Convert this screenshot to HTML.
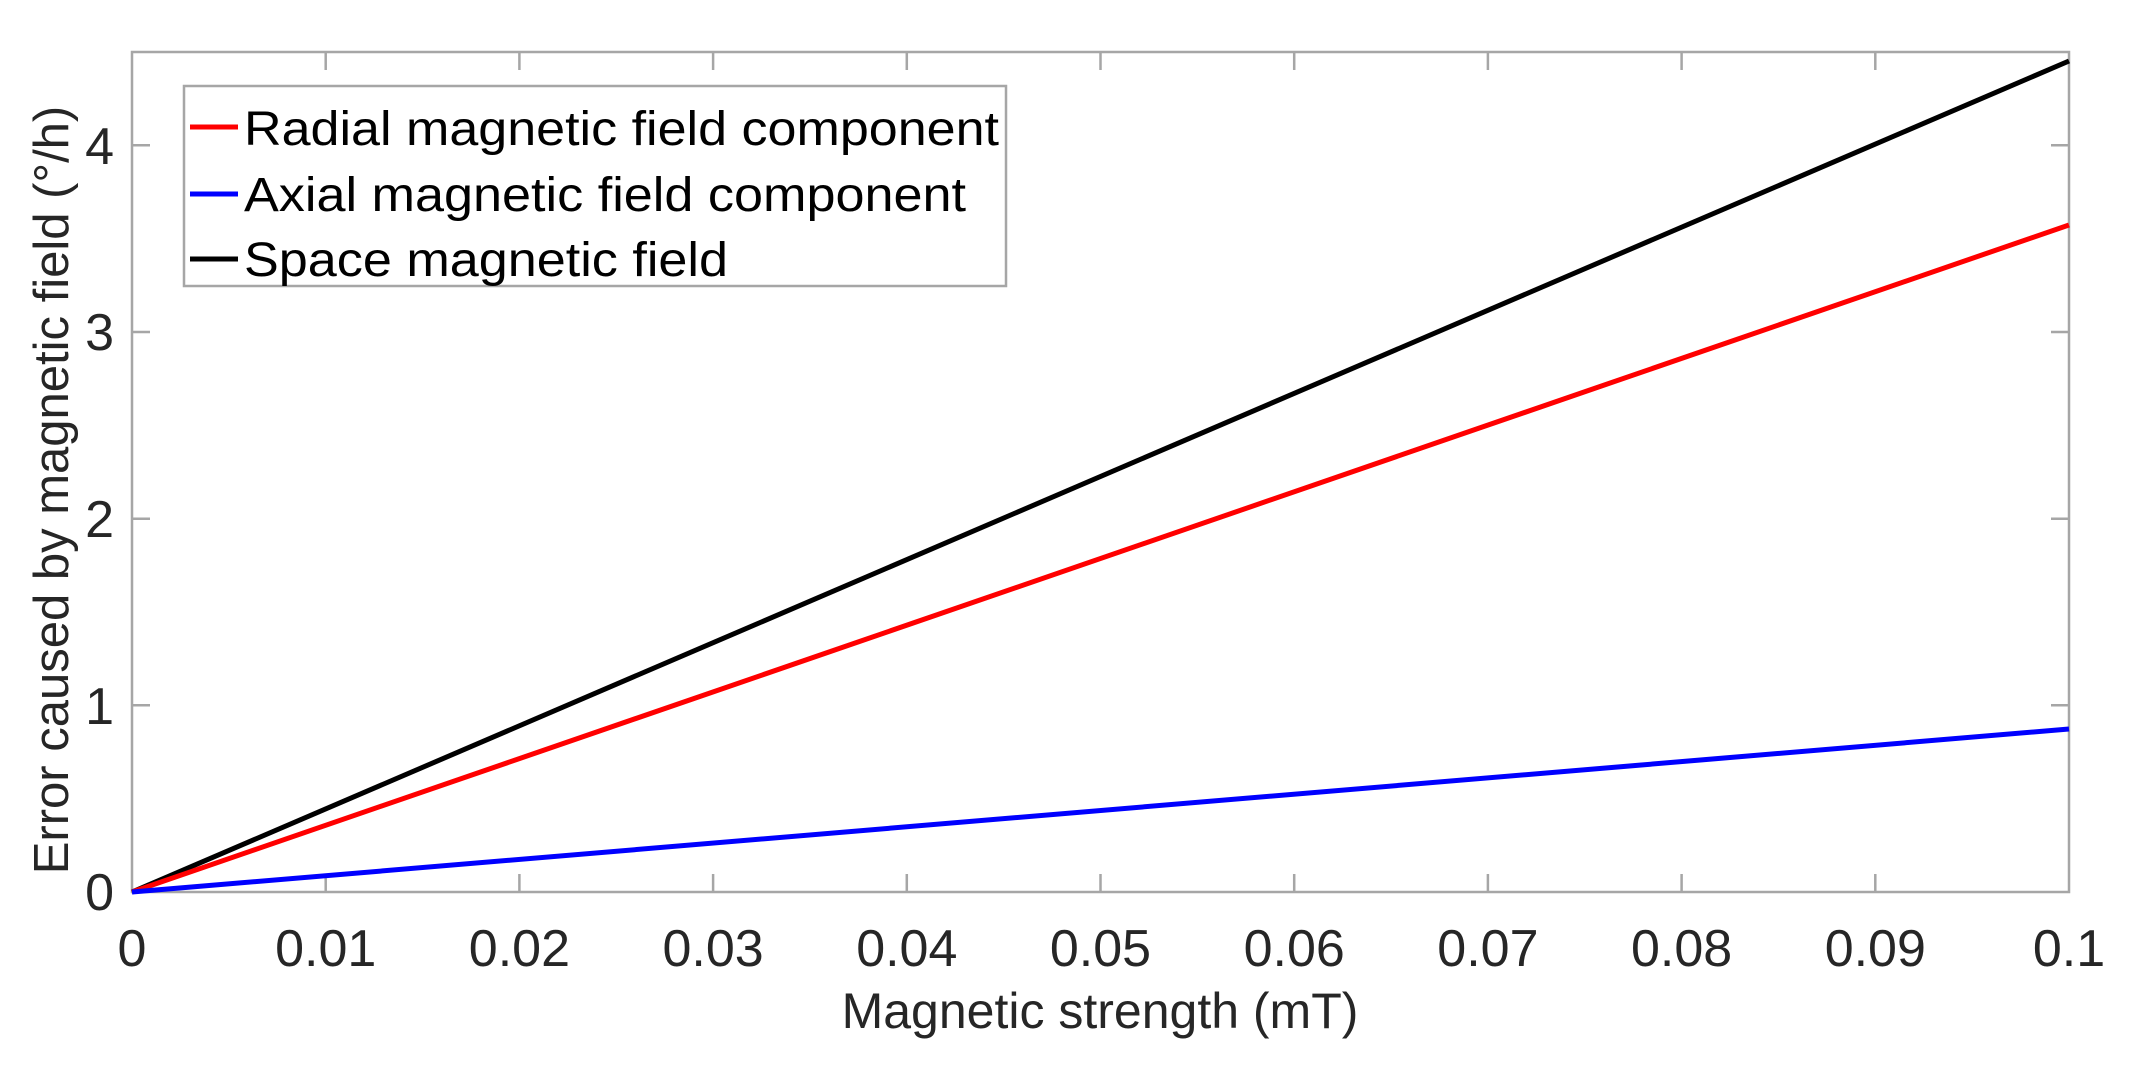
<!DOCTYPE html>
<html><head><style>body{margin:0;background:#fff}svg{display:block}</style></head>
<body>
<svg width="2141" height="1065" xmlns="http://www.w3.org/2000/svg" font-family="Liberation Sans, Arial, sans-serif">
<rect width="2141" height="1065" fill="#fff"/>
<g stroke="#a6a6a6" stroke-width="2.5" fill="none">
<rect x="132" y="52" width="1937" height="840"/>
<path d="M325.7 892v-18M519.4 892v-18M713.1 892v-18M906.8 892v-18M1100.5 892v-18M1294.2 892v-18M1487.9 892v-18M1681.6 892v-18M1875.3 892v-18
M325.7 52v18M519.4 52v18M713.1 52v18M906.8 52v18M1100.5 52v18M1294.2 52v18M1487.9 52v18M1681.6 52v18M1875.3 52v18
M132 705.3h18M132 518.7h18M132 332h18M132 145.3h18
M2069 705.3h-18M2069 518.7h-18M2069 332h-18M2069 145.3h-18"/>
</g>
<g stroke-width="5" fill="none">
<line x1="132" y1="892" x2="2069" y2="61" stroke="#000"/>
<line x1="132" y1="892" x2="2069" y2="225" stroke="#f00"/>
<line x1="132" y1="892" x2="2069" y2="729" stroke="#00f"/>
</g>
<g fill="#262626" font-size="52" text-anchor="middle">
<text x="132" y="966">0</text><text x="325.7" y="966">0.01</text><text x="519.4" y="966">0.02</text><text x="713.1" y="966">0.03</text><text x="906.8" y="966">0.04</text><text x="1100.5" y="966">0.05</text><text x="1294.2" y="966">0.06</text><text x="1487.9" y="966">0.07</text><text x="1681.6" y="966">0.08</text><text x="1875.3" y="966">0.09</text><text x="2069" y="966">0.1</text>
</g>
<g fill="#262626" font-size="52" text-anchor="end">
<text x="114" y="910">0</text><text x="114" y="724">1</text><text x="114" y="537">2</text><text x="114" y="350">3</text><text x="114" y="164">4</text>
</g>
<text x="1100" y="1028" font-size="50" fill="#262626" text-anchor="middle">Magnetic strength (mT)</text>
<text transform="translate(68,490) rotate(-90)" font-size="49" fill="#262626" text-anchor="middle">Error caused by magnetic field (°/h)</text>
<rect x="184" y="86" width="822" height="200" fill="#fff" stroke="#a6a6a6" stroke-width="2.5"/>
<g stroke-width="5">
<line x1="190" y1="127" x2="238" y2="127" stroke="#f00"/>
<line x1="190" y1="194" x2="238" y2="194" stroke="#00f"/>
<line x1="190" y1="259" x2="238" y2="259" stroke="#000"/>
</g>
<g font-size="48" fill="#000">
<text x="244" y="145" textLength="755" lengthAdjust="spacingAndGlyphs">Radial magnetic field component</text>
<text x="244" y="211" textLength="722" lengthAdjust="spacingAndGlyphs">Axial magnetic field component</text>
<text x="244" y="276" textLength="484" lengthAdjust="spacingAndGlyphs">Space magnetic field</text>
</g>
</svg>
</body></html>
